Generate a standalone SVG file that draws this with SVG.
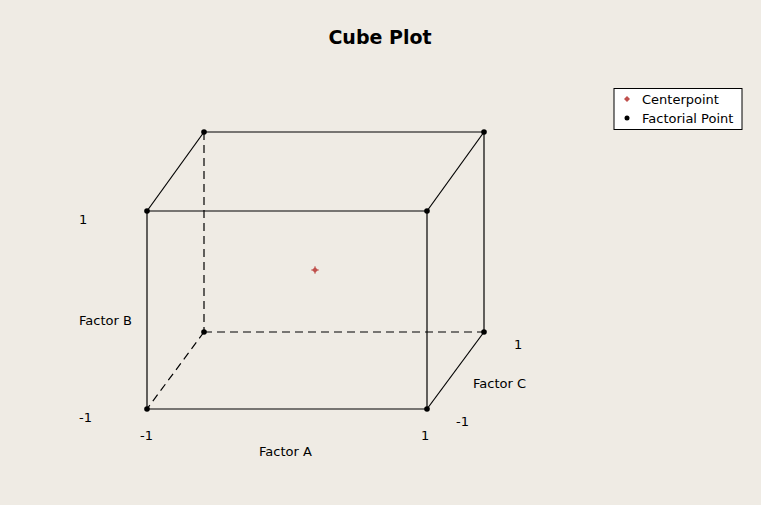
<svg xmlns="http://www.w3.org/2000/svg" width="761" height="505" viewBox="0 0 761 505">
<style>
.e{stroke:#000;stroke-width:1.2;fill:none}
.d{stroke:#000;stroke-width:1.2;fill:none;stroke-dasharray:8,5}
.t{font-family:"DejaVu Sans","Liberation Sans",sans-serif;font-size:13px;fill:#000}
</style>
<defs>
<circle id="pt" r="2.8" fill="#000"/>
</defs>
<rect width="761" height="505" fill="#EFEBE4"/>
<text x="380" y="44" text-anchor="middle" font-family="DejaVu Sans,Liberation Sans,sans-serif" font-weight="bold" font-size="19" fill="#000">Cube Plot</text>
<g id="connectors">
<line class="e" x1="147" y1="211" x2="427" y2="211"/>
<line class="e" x1="147" y1="409" x2="427" y2="409"/>
<line class="e" x1="147" y1="211" x2="147" y2="409"/>
<line class="e" x1="427" y1="211" x2="427" y2="409"/>
<line class="e" x1="204" y1="132" x2="484" y2="132"/>
<line class="e" x1="484" y1="132" x2="484" y2="332"/>
<line class="e" x1="147" y1="211" x2="204" y2="132"/>
<line class="e" x1="427" y1="211" x2="484" y2="132"/>
<line class="e" x1="427" y1="409" x2="484" y2="332"/>
<line class="d" x1="204" y1="132" x2="204" y2="332"/>
<line class="d" x1="204" y1="332" x2="484" y2="332"/>
<line class="d" x1="204" y1="332" x2="147" y2="409"/>
</g>
<g id="points">
<use href="#pt" x="147" y="211"/>
<use href="#pt" x="427" y="211"/>
<use href="#pt" x="147" y="409"/>
<use href="#pt" x="427" y="409"/>
<use href="#pt" x="204" y="132"/>
<use href="#pt" x="484" y="132"/>
<use href="#pt" x="204" y="332"/>
<use href="#pt" x="484" y="332"/>
</g>
<g id="centerpoint">
<path d="M315,267 L318,270 L315,273 L312,270 Z" fill="#C0504D"/>
<path d="M311,270 L319,270 M315,266 L315,274" stroke="#C0504D" stroke-width="0.8"/>
</g>
<g id="labels">
<text class="t" x="79" y="224">1</text>
<text class="t" x="79" y="325">Factor B</text>
<text class="t" x="79" y="422">-1</text>
<text class="t" x="140" y="440">-1</text>
<text class="t" x="421" y="440">1</text>
<text class="t" x="259" y="456">Factor A</text>
<text class="t" x="456" y="426">-1</text>
<text class="t" x="473" y="388">Factor C</text>
<text class="t" x="514" y="349">1</text>
</g>
<g id="legend">
<rect x="614" y="88.5" width="128" height="41" fill="#fff" stroke="#000" stroke-width="1"/>
<path d="M627,96 L630,99 L627,102 L624,99 Z" fill="#C0504D"/>
<circle cx="627" cy="118" r="2.5" fill="#000"/>
<text class="t" x="642" y="104">Centerpoint</text>
<text class="t" x="642" y="123">Factorial Point</text>
</g>
</svg>
